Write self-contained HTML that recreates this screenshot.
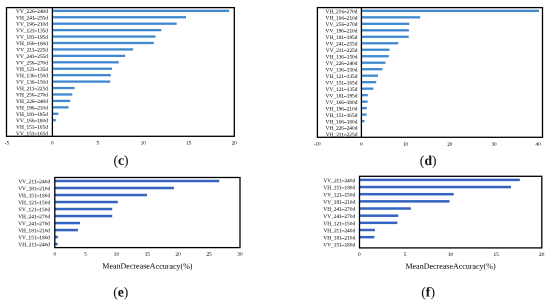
<!DOCTYPE html>
<html lang="en">
<head>
<meta charset="utf-8">
<title>Figure: variable importance (c)–(f)</title>
<style>
html,body{margin:0;padding:0;background:#fff;}
body{width:550px;height:302px;overflow:hidden;}
text{stroke:#111;stroke-width:0.03px;}
svg{display:block;text-rendering:geometricPrecision;font-family:"Liberation Serif","Times New Roman",serif;fill:#111;}
</style>
</head>
<body>
<svg width="550" height="302" viewBox="0 0 550 302">
<rect x="0" y="0" width="550" height="302" fill="#ffffff"/>
<rect x="52.40" y="9.67" width="176.80" height="2.30" fill="#4088d0"/>
<rect x="52.40" y="16.10" width="133.60" height="2.30" fill="#4088d0"/>
<rect x="52.40" y="22.54" width="124.30" height="2.30" fill="#4088d0"/>
<rect x="52.40" y="28.97" width="108.90" height="2.30" fill="#4088d0"/>
<rect x="52.40" y="35.41" width="103.10" height="2.30" fill="#4088d0"/>
<rect x="52.40" y="41.84" width="101.40" height="2.30" fill="#4088d0"/>
<rect x="52.40" y="48.28" width="80.70" height="2.30" fill="#4088d0"/>
<rect x="52.40" y="54.71" width="72.70" height="2.30" fill="#4088d0"/>
<rect x="52.40" y="61.15" width="66.40" height="2.30" fill="#4088d0"/>
<rect x="52.40" y="67.58" width="59.60" height="2.30" fill="#4088d0"/>
<rect x="52.40" y="74.02" width="58.40" height="2.30" fill="#4088d0"/>
<rect x="52.40" y="80.45" width="57.90" height="2.30" fill="#4088d0"/>
<rect x="52.40" y="86.89" width="22.20" height="2.30" fill="#4088d0"/>
<rect x="52.40" y="93.32" width="19.90" height="2.30" fill="#4088d0"/>
<rect x="52.40" y="99.76" width="17.90" height="2.30" fill="#4088d0"/>
<rect x="52.40" y="106.19" width="16.10" height="2.30" fill="#4088d0"/>
<rect x="52.40" y="112.63" width="6.00" height="2.30" fill="#4088d0"/>
<rect x="52.40" y="119.06" width="3.50" height="2.30" fill="#4088d0"/>
<rect x="6.50" y="7.60" width="227.80" height="128.70" fill="none" stroke="#000" stroke-width="1.3"/>
<line x1="52.40" y1="7.60" x2="52.40" y2="136.30" stroke="#000" stroke-width="1.3"/>
<rect x="361.40" y="9.69" width="177.60" height="2.30" fill="#4088d0"/>
<rect x="361.40" y="16.18" width="58.80" height="2.30" fill="#4088d0"/>
<rect x="361.40" y="22.66" width="48.00" height="2.30" fill="#4088d0"/>
<rect x="361.40" y="29.15" width="47.50" height="2.30" fill="#4088d0"/>
<rect x="361.40" y="35.63" width="47.30" height="2.30" fill="#4088d0"/>
<rect x="361.40" y="42.12" width="36.90" height="2.30" fill="#4088d0"/>
<rect x="361.40" y="48.60" width="28.10" height="2.30" fill="#4088d0"/>
<rect x="361.40" y="55.09" width="27.40" height="2.30" fill="#4088d0"/>
<rect x="361.40" y="61.57" width="24.10" height="2.30" fill="#4088d0"/>
<rect x="361.40" y="68.06" width="21.10" height="2.30" fill="#4088d0"/>
<rect x="361.40" y="74.54" width="16.60" height="2.30" fill="#4088d0"/>
<rect x="361.40" y="81.03" width="14.80" height="2.30" fill="#4088d0"/>
<rect x="361.40" y="87.51" width="12.00" height="2.30" fill="#4088d0"/>
<rect x="361.40" y="94.00" width="6.40" height="2.30" fill="#4088d0"/>
<rect x="361.40" y="100.48" width="6.20" height="2.30" fill="#4088d0"/>
<rect x="361.40" y="106.97" width="5.40" height="2.30" fill="#4088d0"/>
<rect x="361.40" y="113.45" width="5.20" height="2.30" fill="#4088d0"/>
<rect x="361.40" y="119.94" width="3.20" height="2.30" fill="#4088d0"/>
<rect x="317.40" y="7.60" width="225.10" height="129.70" fill="none" stroke="#000" stroke-width="1.3"/>
<line x1="361.40" y1="7.60" x2="361.40" y2="137.30" stroke="#000" stroke-width="1.3"/>
<rect x="54.80" y="179.75" width="164.50" height="2.50" fill="#3463c0"/>
<rect x="54.80" y="186.76" width="119.10" height="2.50" fill="#3463c0"/>
<rect x="54.80" y="193.78" width="92.20" height="2.50" fill="#3463c0"/>
<rect x="54.80" y="200.78" width="63.00" height="2.50" fill="#3463c0"/>
<rect x="54.80" y="207.79" width="57.40" height="2.50" fill="#3463c0"/>
<rect x="54.80" y="214.81" width="57.40" height="2.50" fill="#3463c0"/>
<rect x="54.80" y="221.81" width="25.20" height="2.50" fill="#3463c0"/>
<rect x="54.80" y="228.82" width="23.20" height="2.50" fill="#3463c0"/>
<rect x="54.80" y="235.84" width="3.00" height="2.50" fill="#3463c0"/>
<rect x="54.80" y="242.84" width="2.80" height="2.50" fill="#3463c0"/>
<rect x="54.80" y="177.50" width="185.20" height="70.10" fill="none" stroke="#000" stroke-width="1.3"/>
<rect x="359.50" y="178.63" width="160.30" height="2.50" fill="#3463c0"/>
<rect x="359.50" y="185.79" width="151.50" height="2.50" fill="#3463c0"/>
<rect x="359.50" y="192.95" width="94.20" height="2.50" fill="#3463c0"/>
<rect x="359.50" y="200.11" width="90.00" height="2.50" fill="#3463c0"/>
<rect x="359.50" y="207.27" width="51.40" height="2.50" fill="#3463c0"/>
<rect x="359.50" y="214.43" width="38.80" height="2.50" fill="#3463c0"/>
<rect x="359.50" y="221.59" width="37.80" height="2.50" fill="#3463c0"/>
<rect x="359.50" y="228.75" width="15.40" height="2.50" fill="#3463c0"/>
<rect x="359.50" y="235.91" width="14.90" height="2.50" fill="#3463c0"/>
<rect x="359.50" y="176.30" width="182.30" height="71.60" fill="none" stroke="#000" stroke-width="1.3"/>
<g transform="rotate(0.03 275 151)">
<text x="47.90" y="13.09" font-size="5.36" text-anchor="end">VV_226–240d</text>
<text x="47.90" y="19.52" font-size="5.36" text-anchor="end">VH_241–255d</text>
<text x="47.90" y="25.96" font-size="5.36" text-anchor="end">VV_196–210d</text>
<text x="47.90" y="32.39" font-size="5.36" text-anchor="end">VV_121–135d</text>
<text x="47.90" y="38.83" font-size="5.36" text-anchor="end">VV_181–195d</text>
<text x="47.90" y="45.26" font-size="5.36" text-anchor="end">VH_166–180d</text>
<text x="47.90" y="51.70" font-size="5.36" text-anchor="end">VV_211–225d</text>
<text x="47.90" y="58.13" font-size="5.36" text-anchor="end">VV_241–255d</text>
<text x="47.90" y="64.57" font-size="5.36" text-anchor="end">VV_256–270d</text>
<text x="47.90" y="71.00" font-size="5.36" text-anchor="end">VH_121–135d</text>
<text x="47.90" y="77.44" font-size="5.36" text-anchor="end">VH_136–150d</text>
<text x="47.90" y="83.87" font-size="5.36" text-anchor="end">VV_136–150d</text>
<text x="47.90" y="90.31" font-size="5.36" text-anchor="end">VH_211–225d</text>
<text x="47.90" y="96.74" font-size="5.36" text-anchor="end">VH_256–270d</text>
<text x="47.90" y="103.18" font-size="5.36" text-anchor="end">VH_226–240d</text>
<text x="47.90" y="109.61" font-size="5.36" text-anchor="end">VH_196–210d</text>
<text x="47.90" y="116.05" font-size="5.36" text-anchor="end">VH_181–195d</text>
<text x="47.90" y="122.48" font-size="5.36" text-anchor="end">VV_166–180d</text>
<text x="47.90" y="128.92" font-size="5.36" text-anchor="end">VH_151–165d</text>
<text x="47.90" y="135.35" font-size="5.36" text-anchor="end">VV_151–165d</text>
<text x="6.92" y="144.60" font-size="5.2" text-anchor="middle">-5</text>
<text x="52.40" y="144.60" font-size="5.2" text-anchor="middle">0</text>
<text x="97.88" y="144.60" font-size="5.2" text-anchor="middle">5</text>
<text x="143.35" y="144.60" font-size="5.2" text-anchor="middle">10</text>
<text x="188.83" y="144.60" font-size="5.2" text-anchor="middle">15</text>
<text x="234.30" y="144.60" font-size="5.2" text-anchor="middle">20</text>
<text x="357.40" y="13.11" font-size="5.36" text-anchor="end">VH_256–270d</text>
<text x="357.40" y="19.60" font-size="5.36" text-anchor="end">VH_196–210d</text>
<text x="357.40" y="26.08" font-size="5.36" text-anchor="end">VV_256–270d</text>
<text x="357.40" y="32.57" font-size="5.36" text-anchor="end">VV_196–210d</text>
<text x="357.40" y="39.05" font-size="5.36" text-anchor="end">VH_181–195d</text>
<text x="357.40" y="45.54" font-size="5.36" text-anchor="end">VV_241–255d</text>
<text x="357.40" y="52.02" font-size="5.36" text-anchor="end">VV_211–225d</text>
<text x="357.40" y="58.51" font-size="5.36" text-anchor="end">VH_136–150d</text>
<text x="357.40" y="64.99" font-size="5.36" text-anchor="end">VV_226–240d</text>
<text x="357.40" y="71.48" font-size="5.36" text-anchor="end">VV_136–150d</text>
<text x="357.40" y="77.96" font-size="5.36" text-anchor="end">VH_121–135d</text>
<text x="357.40" y="84.45" font-size="5.36" text-anchor="end">VV_151–165d</text>
<text x="357.40" y="90.93" font-size="5.36" text-anchor="end">VV_121–135d</text>
<text x="357.40" y="97.42" font-size="5.36" text-anchor="end">VV_181–195d</text>
<text x="357.40" y="103.90" font-size="5.36" text-anchor="end">VV_166–180d</text>
<text x="357.40" y="110.39" font-size="5.36" text-anchor="end">VH_196–210d</text>
<text x="357.40" y="116.87" font-size="5.36" text-anchor="end">VH_151–165d</text>
<text x="357.40" y="123.36" font-size="5.36" text-anchor="end">VH_166–180d</text>
<text x="357.40" y="129.84" font-size="5.36" text-anchor="end">VH_226–240d</text>
<text x="357.40" y="136.33" font-size="5.36" text-anchor="end">VH_211–225d</text>
<text x="317.20" y="145.60" font-size="5.2" text-anchor="middle">-10</text>
<text x="361.40" y="145.60" font-size="5.2" text-anchor="middle">0</text>
<text x="405.60" y="145.60" font-size="5.2" text-anchor="middle">10</text>
<text x="449.80" y="145.60" font-size="5.2" text-anchor="middle">20</text>
<text x="494.00" y="145.60" font-size="5.2" text-anchor="middle">30</text>
<text x="538.20" y="145.60" font-size="5.2" text-anchor="middle">40</text>
<text x="50.10" y="183.27" font-size="5.36" text-anchor="end">VV_211–240d</text>
<text x="50.10" y="190.28" font-size="5.36" text-anchor="end">VV_181–210d</text>
<text x="50.10" y="197.29" font-size="5.36" text-anchor="end">VH_151–180d</text>
<text x="50.10" y="204.30" font-size="5.36" text-anchor="end">VH_121–150d</text>
<text x="50.10" y="211.31" font-size="5.36" text-anchor="end">VV_121–150d</text>
<text x="50.10" y="218.32" font-size="5.36" text-anchor="end">VH_241–270d</text>
<text x="50.10" y="225.33" font-size="5.36" text-anchor="end">VV_241–270d</text>
<text x="50.10" y="232.34" font-size="5.36" text-anchor="end">VH_181–210d</text>
<text x="50.10" y="239.35" font-size="5.36" text-anchor="end">VV_151–180d</text>
<text x="50.10" y="246.36" font-size="5.36" text-anchor="end">VH_211–240d</text>
<text x="54.80" y="255.90" font-size="5.3" text-anchor="middle">0</text>
<text x="85.67" y="255.90" font-size="5.3" text-anchor="middle">5</text>
<text x="116.53" y="255.90" font-size="5.3" text-anchor="middle">10</text>
<text x="147.40" y="255.90" font-size="5.3" text-anchor="middle">15</text>
<text x="178.27" y="255.90" font-size="5.3" text-anchor="middle">20</text>
<text x="209.13" y="255.90" font-size="5.3" text-anchor="middle">25</text>
<text x="240.00" y="255.90" font-size="5.3" text-anchor="middle">30</text>
<text x="355.20" y="182.15" font-size="5.36" text-anchor="end">VV_211–240d</text>
<text x="355.20" y="189.31" font-size="5.36" text-anchor="end">VH_151–180d</text>
<text x="355.20" y="196.47" font-size="5.36" text-anchor="end">VV_121–150d</text>
<text x="355.20" y="203.63" font-size="5.36" text-anchor="end">VV_181–210d</text>
<text x="355.20" y="210.79" font-size="5.36" text-anchor="end">VH_241–270d</text>
<text x="355.20" y="217.95" font-size="5.36" text-anchor="end">VV_241–270d</text>
<text x="355.20" y="225.11" font-size="5.36" text-anchor="end">VH_121–150d</text>
<text x="355.20" y="232.27" font-size="5.36" text-anchor="end">VH_211–240d</text>
<text x="355.20" y="239.43" font-size="5.36" text-anchor="end">VH_181–210d</text>
<text x="355.20" y="246.59" font-size="5.36" text-anchor="end">VV_151–180d</text>
<text x="359.50" y="255.90" font-size="5.3" text-anchor="middle">0</text>
<text x="405.07" y="255.90" font-size="5.3" text-anchor="middle">5</text>
<text x="450.65" y="255.90" font-size="5.3" text-anchor="middle">10</text>
<text x="496.22" y="255.90" font-size="5.3" text-anchor="middle">15</text>
<text x="541.80" y="255.90" font-size="5.3" text-anchor="middle">20</text>
<text x="121.00" y="164.90" font-size="13.6" text-anchor="middle" fill="#111" stroke="none">(<tspan font-weight="bold">c</tspan>)</text>
<text x="428.20" y="164.90" font-size="13.6" text-anchor="middle" fill="#111" stroke="none">(<tspan font-weight="bold">d</tspan>)</text>
<text x="120.80" y="296.50" font-size="13.6" text-anchor="middle" fill="#111" stroke="none">(<tspan font-weight="bold">e</tspan>)</text>
<text x="428.20" y="296.50" font-size="13.6" text-anchor="middle" fill="#111" stroke="none">(<tspan font-weight="bold">f</tspan>)</text>
<text x="147.5" y="268.7" font-size="8" text-anchor="middle">MeanDecreaseAccuracy(%)</text>
<text x="450.6" y="268.7" font-size="8" text-anchor="middle">MeanDecreaseAccuracy(%)</text>
</g>
</svg>
</body>
</html>
